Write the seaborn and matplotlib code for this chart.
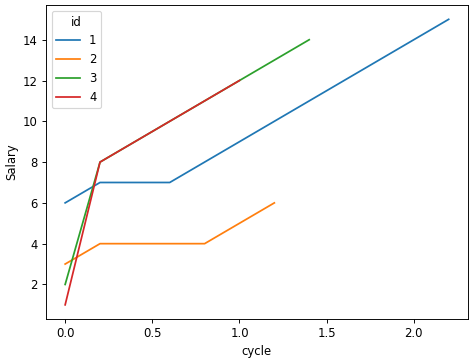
import matplotlib
matplotlib.use("Agg")
import matplotlib.pyplot as plt
import seaborn as sns
import pandas as pd

ids = [1, 1, 1, 1, 2, 2, 2, 2, 3, 3, 3, 4, 4, 4]
cycle = [0.0, 0.2, 0.6, 2.2, 0.0, 0.2, 0.8, 1.2, 0.0, 0.2, 1.4, 0.0, 0.2, 1.0]
salary = [6, 7, 7, 15, 3, 4, 4, 6, 2, 8, 14, 1, 8, 12]

df = pd.DataFrame({"id": ids, "cycle": cycle, "Salary": salary})

scale = 0.836
dpi = 100 * scale
fig, ax = plt.subplots(figsize=(474 / dpi, 361 / dpi), dpi=dpi)
sns.lineplot(data=df, x="cycle", y="Salary", hue="id", palette="tab10", ax=ax)
ax.legend(title="id", loc="upper left")
fig.subplots_adjust(left=0.097, right=0.987, top=0.986, bottom=0.116)
fig.savefig("out.png", dpi=dpi)
